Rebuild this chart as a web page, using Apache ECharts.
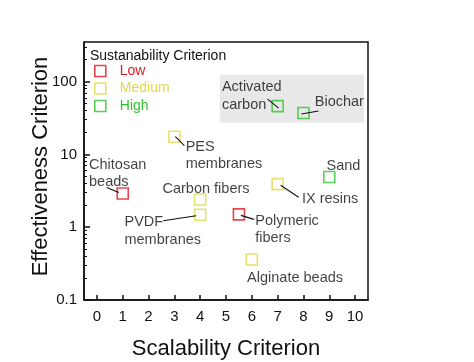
<!DOCTYPE html>
<html>
<head>
<meta charset="utf-8">
<script src="https://cdn.jsdelivr.net/npm/echarts@6/dist/echarts.min.js"></script>
<style>html,body{margin:0;padding:0;background:#fff}#c{width:474px;height:362px}</style>
</head>
<body>
<div id="c"></div>
<script>
// ---- data ----
const names = ['Chitosan\nbeads','PES\nmembranes','Carbon fibers','PVDF\nmembranes','Polymeric\nfibers','Alginate beads','IX resins','Sand','Activated\ncarbon','Biochar'];
const scalability = [1, 3, 4, 4, 5.5, 6, 7, 9, 7, 8];
const effectiveness = [2.9, 17.5, 2.4, 1.48, 1.5, 0.36, 3.9, 4.9, 46, 37];
const sustainability = ['Low','Medium','Medium','Medium','Low','Medium','Medium','High','High','High'];
const levels = ['Low','Medium','High'];
const xTicks = [0,1,2,3,4,5,6,7,8,9,10];
const yTicks = [0.1, 1, 10, 100];
const yMinorTicks = [0.2,0.3,0.4,0.5,0.6,0.7,0.8,0.9,2,3,4,5,6,7,8,9,20,30,40,50,60,70,80,90,200,300];
const shadedX = [4.76, 10.35];
const shadedY = [27.5, 124];

// ---- layout / style (not data) ----
const colors = {Low:'#e3161f', Medium:'#e2d84c', High:'#2fc42f'};
// label offsets [dx, dy] from default right-side position
const labelOffsets = {
  'Chitosan\nbeads':[-40,-20],
  'PES\nmembranes':[5,19],
  'Carbon fibers':[-44,-11],
  'PVDF\nmembranes':[-82,16],
  'Polymeric\nfibers':[10,15],
  'Alginate beads':[-11,18],
  'IX resins':[18,15],
  'Sand':[-9,-11],
  'Activated\ncarbon':[-62,-10],
  'Biochar':[5,-11]
};
// leader line pixel offsets from the point centre [x1,y1,x2,y2]
const leaderKeys = ['Chitosan\nbeads','PES\nmembranes','PVDF\nmembranes','Polymeric\nfibers','IX resins','Activated\ncarbon','Biochar'];
const leaderOffsets = [
  [-16,-6,-4,-1],
  [1,0,10,9],
  [-37,6,-4,1],
  [2,1,15,5],
  [3,1,21,13],
  [-10,-7,1,2],
  [-2,1,15,-2]
];
const FONT = '"Liberation Sans", Arial, sans-serif';

const series = levels.map(function(lv, si){
  const data = [];
  names.forEach(function(n,i){
    if (sustainability[i] === lv) {
      data.push({name:n, value:[scalability[i], effectiveness[i]]});
    }
  });
  const s = {
    name: lv, type:'scatter', symbol:'rect', symbolSize:11,
    itemStyle:{color:'rgba(0,0,0,0)', borderColor:colors[lv], borderWidth:1.6},
    label:{show:true, position:'right', distance:0, formatter:'{b}', color:'#111',
      fontFamily:FONT, fontSize:14.5, lineHeight:17.5, align:'left'},
    labelLayout:function(p){
      const o = labelOffsets[data[p.dataIndex].name];
      return {dx:o[0], dy:o[1]};
    },
    emphasis:{disabled:true},
    data:data, z:5
  };
  if (si === 0) {
    s.markArea = {silent:true, itemStyle:{color:'#e8e8e8'},
      data:[[{coord:[shadedX[0], shadedY[0]]},{coord:[shadedX[1], shadedY[1]]}]], z:1};
  }
  return s;
});

const leaderData = leaderKeys.map(function(n){
  const i = names.indexOf(n);
  return [scalability[i], effectiveness[i]];
});
series.push({
  type:'custom', name:'leaders', silent:true, z:6, clip:false,
  data:leaderData,
  renderItem:function(params, api){
    const p = api.coord([api.value(0), api.value(1)]);
    const o = leaderOffsets[params.dataIndex];
    return {type:'line', shape:{x1:p[0]+o[0], y1:p[1]+o[1], x2:p[0]+o[2], y2:p[1]+o[3]},
      style:{stroke:'#111', lineWidth:1.1}};
  }
});

const chart = echarts.init(document.getElementById('c'), null, {renderer:'canvas'});
chart.setOption({
  animation:false,
  backgroundColor:'#fff',
  title:{text:'Sustanability Criterion', left:85, top:44,
    textStyle:{fontFamily:FONT, fontSize:14, fontWeight:'normal', color:'#111'}},
  legend:{
    orient:'vertical', left:89, top:59, itemWidth:11, itemHeight:11, itemGap:3.5,
    data: levels.map(function(lv){ return {name:lv, icon:'rect',
      itemStyle:{color:'rgba(0,0,0,0)', borderColor:colors[lv], borderWidth:1.6},
      textStyle:{color:colors[lv]}}; }),
    textStyle:{fontFamily:FONT, fontSize:14, padding:[0,0,0,9]},
    selectedMode:false
  },
  grid:{left:84, top:42, right:106, bottom:62, show:true, borderColor:'#111', borderWidth:1.5,
    backgroundColor:'transparent', containLabel:false, outerBoundsMode:'none'},
  xAxis:{
    type:'value', min:-0.5, max:10.5,
    name:'Scalability Criterion', nameLocation:'middle', nameGap:38, nameMoveOverlap:false,
    nameTextStyle:{fontFamily:FONT, fontSize:22, color:'#111'},
    axisLine:{show:true, onZero:false, lineStyle:{color:'#111', width:1.5}},
    axisTick:{show:true, inside:true, length:5, customValues:xTicks, lineStyle:{color:'#111', width:1.5}},
    axisLabel:{customValues:xTicks, fontFamily:FONT, fontSize:15, color:'#111', margin:9},
    splitLine:{show:false}
  },
  yAxis:[{
    type:'log', logBase:10, min:0.1, max:350,
    name:'Effectiveness Criterion', nameLocation:'middle', nameGap:32, nameMoveOverlap:false,
    nameTextStyle:{fontFamily:FONT, fontSize:22, color:'#111', padding:[0,0,0,9]},
    axisLine:{show:true, onZero:false, lineStyle:{color:'#111', width:1.5}},
    axisTick:{show:true, inside:true, length:6, customValues:yTicks, lineStyle:{color:'#111', width:1.5}},
    axisLabel:{customValues:yTicks, fontFamily:FONT, fontSize:15, color:'#111', margin:7,
      formatter:function(v){ return String(+v.toPrecision(3)); }},
    splitLine:{show:false}
  },{
    type:'log', logBase:10, min:0.1, max:350, position:'left',
    axisLine:{show:false, onZero:false},
    axisTick:{show:true, inside:true, length:3, customValues:yMinorTicks, lineStyle:{color:'#111', width:1}},
    axisLabel:{show:false}, splitLine:{show:false}
  }],
  series:series
});
</script>
</body>
</html>
